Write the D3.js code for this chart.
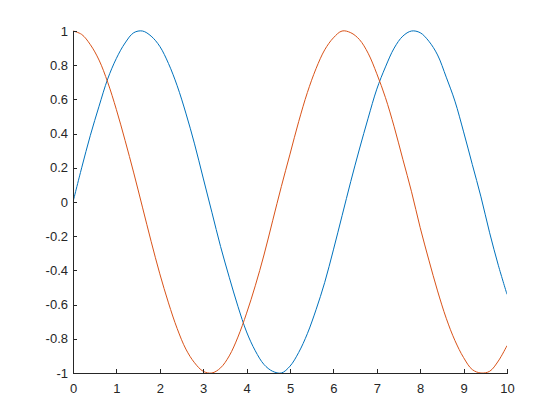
<!DOCTYPE html>
<html><head><meta charset="utf-8">
<script src="https://cdn.jsdelivr.net/npm/d3@7"></script>
<style>body{margin:0;background:#fff}</style>
</head><body>
<script>
const xValues = d3.range(0, 51).map(i => +(i * 0.2).toFixed(1));
const seriesA = [0,0.20,0.39,0.56,0.72,0.84,0.93,0.99,1.00,0.97,0.91,0.81,0.68,0.52,0.34,0.14,-0.06,-0.26,-0.44,-0.61,-0.76,-0.87,-0.95,
  -0.99,-1.00,-0.96,-0.88,-0.77,-0.63,-0.47,-0.28,-0.08,0.12,0.31,0.49,0.66,0.79,0.90,0.97,1.00,0.99,0.94,0.86,0.73,0.59,0.41,0.22,0.03,-0.18,-0.37,-0.54];
const seriesB = [1.00,0.98,0.92,0.83,0.70,0.54,0.36,0.17,-0.03,-0.23,-0.42,-0.59,-0.74,-0.86,-0.94,-0.99,-1.00,-0.97,-0.90,-0.79,-0.65,-0.49,-0.31,
  -0.11,0.09,0.28,0.47,0.64,0.78,0.89,0.96,1.00,0.99,0.95,0.87,0.75,0.61,0.44,0.25,0.06,-0.15,-0.34,-0.52,-0.68,-0.81,-0.91,-0.98,-1.00,-0.99,-0.93,-0.84];
const xTicks = [0,1,2,3,4,5,6,7,8,9,10];
const yTicks = [-1,-0.8,-0.6,-0.4,-0.2,0,0.2,0.4,0.6,0.8,1];

const W = 560, H = 420;
const m = {left:73, right:53, top:31, bottom:47};
const svg = d3.select("body").append("svg").attr("width", W).attr("height", H);
const x = d3.scaleLinear().domain([0,10]).range([m.left, W - m.right]);
const y = d3.scaleLinear().domain([-1,1]).range([H - m.bottom, m.top]);

svg.append("clipPath").attr("id","clip").append("rect")
  .attr("x", m.left).attr("y", m.top - 1).attr("width", W - m.left - m.right).attr("height", H - m.top - m.bottom + 2);

const line = d3.line().x((d,i) => x(xValues[i])).y(d => y(d)).curve(d3.curveCatmullRom.alpha(0.5));
const g = svg.append("g").attr("clip-path","url(#clip)");
g.append("path").datum(seriesA).attr("d", line).attr("fill","none").attr("stroke","#0072BD").attr("stroke-width",1);
g.append("path").datum(seriesB).attr("d", line).attr("fill","none").attr("stroke","#D95319").attr("stroke-width",1);

const fmt = d => String(d);
const xa = svg.append("g").attr("transform",`translate(0,${H - m.bottom})`)
  .call(d3.axisBottom(x).tickValues(xTicks).tickFormat(fmt).tickSizeInner(-4).tickSizeOuter(0).tickPadding(11));
const ya = svg.append("g").attr("transform",`translate(${m.left},0)`)
  .call(d3.axisLeft(y).tickValues(yTicks).tickFormat(fmt).tickSizeInner(-4).tickSizeOuter(0).tickPadding(5));
[xa, ya].forEach(a => {
  a.attr("font-size", 13).attr("font-family", "'Liberation Sans', Arial, sans-serif");
  a.selectAll("path,line").attr("stroke","#262626").attr("stroke-width",1).attr("shape-rendering","crispEdges");
  a.selectAll("text").attr("fill","#262626").style("font-family","'Liberation Sans', Arial, sans-serif").style("font-size","13px");
});
</script>
</body></html>
